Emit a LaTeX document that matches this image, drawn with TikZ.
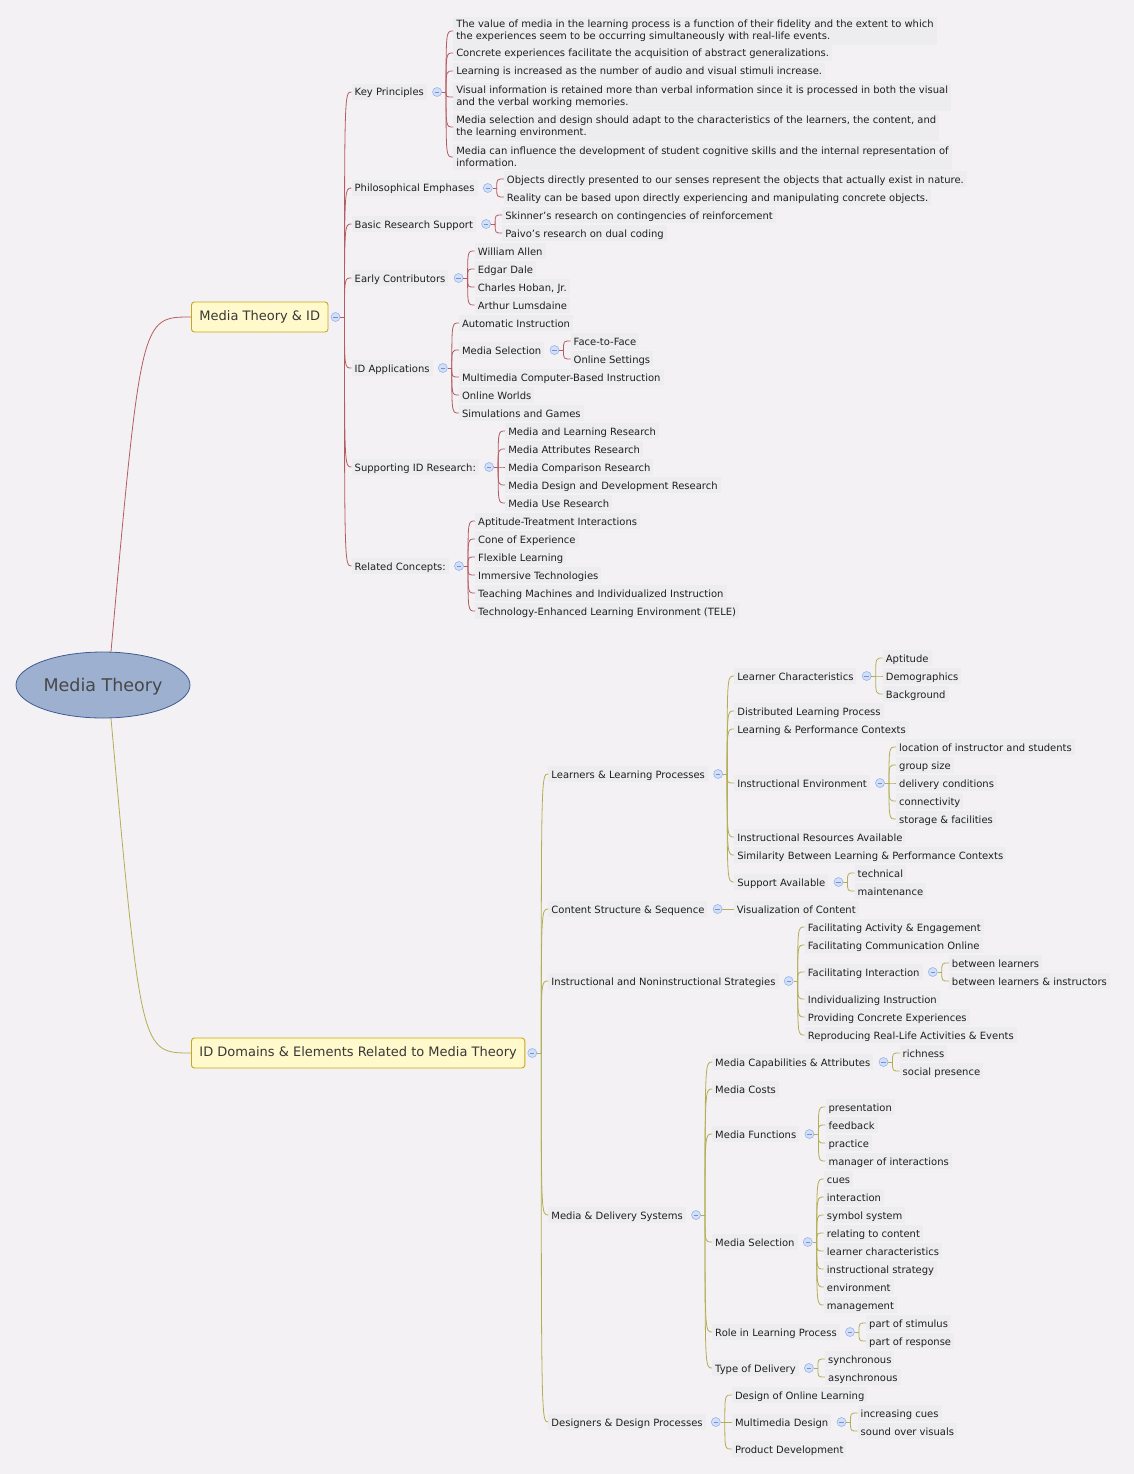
\documentclass[tikz,border=0pt]{standalone}
\usepackage{fontspec}
\setmainfont{DejaVu Sans}
\usetikzlibrary{shapes.geometric,calc}
\definecolor{mapback}{RGB}{243,241,244}
\definecolor{nodefill}{RGB}{237,237,239}
\definecolor{redline}{RGB}{180,92,98}
\definecolor{oliveline}{RGB}{178,174,82}
\definecolor{topicfill}{RGB}{255,249,204}
\definecolor{topicline}{RGB}{201,168,20}
\definecolor{rootfill}{RGB}{158,176,207}
\definecolor{rootline}{RGB}{62,92,146}
\definecolor{hubfill}{RGB}{210,223,248}
\definecolor{hubline}{RGB}{152,180,234}
\definecolor{hubminus}{RGB}{118,146,204}
\newcommand{\mmfont}{\fontsize{10}{12}\selectfont}
\tikzset{
  mmtext/.style={font=\mmfont, text=black!88, fill=nodefill, inner xsep=3pt,
    inner ysep=3pt, anchor=west, xshift=16pt},
  leaf/.style={mmtext, text height=9pt, text depth=1pt},
  leafml/.style={mmtext, align=left, yshift=-2pt},
  topic/.style={draw=topicline, fill=topicfill, rounded corners=3pt, line width=0.9pt,
    font=\fontsize{13}{15}\selectfont, text=black!78, minimum height=30pt,
    inner xsep=8pt, anchor=west},
  rootnode/.style={ellipse, draw=rootline, fill=rootfill, line width=0.8pt,
    minimum width=174pt, minimum height=66pt, inner sep=0pt,
    text height=13.2pt, text depth=0pt,
    font=\fontsize{17.5}{20}\selectfont, text=black!72},
  hubdot/.style={circle, draw=hubline, fill=hubfill, minimum size=9pt, inner sep=0pt,
    line width=0.6pt, path picture={\draw[hubminus, line width=0.6pt]
      ([xshift=-2.2pt]path picture bounding box.center) --
      ([xshift=2.2pt]path picture bounding box.center);}},
  redbr/.style={draw=redline, line width=0.8pt},
  olivebr/.style={draw=oliveline, line width=0.8pt},
  branch/.style={to path={.. controls (\tikztostart |- \tikztotarget) .. (\tikztotarget)}}
}
% collapse dot and short stub after a node with children
\newcommand{\mmhub}[3][10pt]{%
  \node[hubdot] (#2-c) at ([xshift=#1]#2.east) {};
  \coordinate (#2-s) at ([xshift=9pt]#2-c.center);
  \draw[#3] (#2-c.east) -- (#2-s);
}
% one child: name, parent, y, line style, text
\newcommand{\mmchild}[6][leaf]{%
  \node[#1] (#2) at (#3-c |- 0,#4) {#6};
  \draw[#5] (#3-s) to[branch] (#2.west);
}
% evenly spaced children: parent, line style, first y, list
\newcommand{\mmkids}[4]{%
  \foreach \t [count=\i] in {#4} {
    \pgfmathsetmacro\y{#3+18*(\i-1)}
    \node[leaf] (#1\i) at (#1-c |- 0,\y) {\t};
    \draw[#2] (#1-s) to[branch] (#1\i.west);
  }
}

\begin{document}
\begin{tikzpicture}[x=1pt,y=-1pt]
  \fill[mapback] (0,0) rectangle (1134,1474);
  \useasboundingbox (0,0) rectangle (1134,1474);

  \node[rootnode] (root) at (103,685) {Media Theory};
  \node[topic] (mtid) at (191,317) {Media Theory \& ID};
  \node[topic] (idd) at (191,1053) {ID Domains \& Elements Related to Media Theory};
  \draw[redbr] ([xshift=8pt]root.north)
    .. controls ($(root.north |- mtid.west)+(38,0)$) .. (mtid.west);
  \draw[olivebr] ([xshift=8pt]root.south)
    .. controls ($(root.south |- idd.west)+(38,0)$) .. (idd.west);

  % ---- Media Theory & ID
  \mmhub[7pt]{mtid}{redbr}
  \mmchild{kp}{mtid}{92}{redbr}{Key Principles}
  \mmchild{pe}{mtid}{188}{redbr}{Philosophical Emphases}
  \mmchild{brs}{mtid}{224}{redbr}{Basic Research Support}
  \mmchild{ec}{mtid}{278}{redbr}{Early Contributors}
  \mmchild{ia}{mtid}{368}{redbr}{ID Applications}
  \mmchild{sir}{mtid}{467}{redbr}{Supporting ID Research:}
  \mmchild{rc}{mtid}{566}{redbr}{Related Concepts:}

  \mmhub{kp}{redbr}
  \mmchild[leafml]{kpa}{kp}{29}{redbr}{The value of media in the learning process is a function of their fidelity and the extent to which\\the experiences seem to be occurring simultaneously with real-life events.}
  \mmchild{kpb}{kp}{53}{redbr}{Concrete experiences facilitate the acquisition of abstract generalizations.}
  \mmchild{kpc}{kp}{71}{redbr}{Learning is increased as the number of audio and visual stimuli increase.}
  \mmchild[leafml]{kpd}{kp}{95}{redbr}{Visual information is retained more than verbal information since it is processed in both the visual\\and the verbal working memories.}
  \mmchild[leafml]{kpe}{kp}{125}{redbr}{Media selection and design should adapt to the characteristics of the learners, the content, and\\the learning environment.}
  \mmchild[leafml]{kpf}{kp}{155}{redbr}{Media can influence the development of student cognitive skills and the internal representation of\\information.}

  \mmhub{pe}{redbr}
  \mmkids{pe}{redbr}{179}{Objects directly presented to our senses represent the objects that actually exist in nature.,
    Reality can be based upon directly experiencing and manipulating concrete objects.}
  \mmhub{brs}{redbr}
  \mmkids{brs}{redbr}{215}{Skinner's research on contingencies of reinforcement, Paivo's research on dual coding}
  \mmhub{ec}{redbr}
  \mmkids{ec}{redbr}{251}{William Allen, Edgar Dale, {Charles Hoban, Jr.}, Arthur Lumsdaine}

  \mmhub{ia}{redbr}
  \mmchild{iaa}{ia}{323}{redbr}{Automatic Instruction}
  \mmchild{ims}{ia}{350}{redbr}{Media Selection}
  \mmchild{iab}{ia}{377}{redbr}{Multimedia Computer-Based Instruction}
  \mmchild{iac}{ia}{395}{redbr}{Online Worlds}
  \mmchild{iad}{ia}{413}{redbr}{Simulations and Games}
  \mmhub{ims}{redbr}
  \mmkids{ims}{redbr}{341}{Face-to-Face, Online Settings}

  \mmhub{sir}{redbr}
  \mmkids{sir}{redbr}{431}{Media and Learning Research, Media Attributes Research,
    Media Comparison Research, Media Design and Development Research, Media Use Research}
  \mmhub{rc}{redbr}
  \mmkids{rc}{redbr}{521}{Aptitude-Treatment Interactions, Cone of Experience, Flexible Learning,
    Immersive Technologies, Teaching Machines and Individualized Instruction,
    Technology-Enhanced Learning Environment (TELE)}

  % ---- ID Domains & Elements
  \mmhub[7pt]{idd}{olivebr}
  \mmchild{ll}{idd}{774}{olivebr}{Learners \& Learning Processes}
  \mmchild{cs}{idd}{909}{olivebr}{Content Structure \& Sequence}
  \mmchild{ins}{idd}{981}{olivebr}{Instructional and Noninstructional Strategies}
  \mmchild{mds}{idd}{1215}{olivebr}{Media \& Delivery Systems}
  \mmchild{dd}{idd}{1422}{olivebr}{Designers \& Design Processes}

  \mmhub{ll}{olivebr}
  \mmchild{lc}{ll}{676}{olivebr}{Learner Characteristics}
  \mmchild{dlp}{ll}{711}{olivebr}{Distributed Learning Process}
  \mmchild{lpc}{ll}{729}{olivebr}{Learning \& Performance Contexts}
  \mmchild{ie}{ll}{783}{olivebr}{Instructional Environment}
  \mmchild{ira}{ll}{837}{olivebr}{Instructional Resources Available}
  \mmchild{sbl}{ll}{855}{olivebr}{Similarity Between Learning \& Performance Contexts}
  \mmchild{sa}{ll}{882}{olivebr}{Support Available}
  \mmhub{lc}{olivebr}
  \mmkids{lc}{olivebr}{658}{Aptitude, Demographics, Background}
  \mmhub{ie}{olivebr}
  \mmkids{ie}{olivebr}{747}{location of instructor and students, group size,
    delivery conditions, connectivity, storage \& facilities}
  \mmhub{sa}{olivebr}
  \mmkids{sa}{olivebr}{873}{technical, maintenance}

  \mmhub{cs}{olivebr}
  \mmchild{vc}{cs}{909}{olivebr}{Visualization of Content}

  \mmhub{ins}{olivebr}
  \mmchild{fae}{ins}{927}{olivebr}{Facilitating Activity \& Engagement}
  \mmchild{fco}{ins}{945}{olivebr}{Facilitating Communication Online}
  \mmchild{fi}{ins}{972}{olivebr}{Facilitating Interaction}
  \mmchild{ii}{ins}{999}{olivebr}{Individualizing Instruction}
  \mmchild{pce}{ins}{1017}{olivebr}{Providing Concrete Experiences}
  \mmchild{rra}{ins}{1035}{olivebr}{Reproducing Real-Life Activities \& Events}
  \mmhub{fi}{olivebr}
  \mmkids{fi}{olivebr}{963}{between learners, between learners \& instructors}

  \mmhub{mds}{olivebr}
  \mmchild{mca}{mds}{1062}{olivebr}{Media Capabilities \& Attributes}
  \mmchild{mco}{mds}{1089}{olivebr}{Media Costs}
  \mmchild{mf}{mds}{1134}{olivebr}{Media Functions}
  \mmchild{dms}{mds}{1242}{olivebr}{Media Selection}
  \mmchild{rlp}{mds}{1332}{olivebr}{Role in Learning Process}
  \mmchild{tod}{mds}{1368}{olivebr}{Type of Delivery}
  \mmhub{mca}{olivebr}
  \mmkids{mca}{olivebr}{1053}{richness, social presence}
  \mmhub{mf}{olivebr}
  \mmkids{mf}{olivebr}{1107}{presentation, feedback, practice, manager of interactions}
  \mmhub{dms}{olivebr}
  \mmkids{dms}{olivebr}{1179}{cues, interaction, symbol system, relating to content,
    learner characteristics, instructional strategy, environment, management}
  \mmhub{rlp}{olivebr}
  \mmkids{rlp}{olivebr}{1323}{part of stimulus, part of response}
  \mmhub{tod}{olivebr}
  \mmkids{tod}{olivebr}{1359}{synchronous, asynchronous}

  \mmhub{dd}{olivebr}
  \mmchild{dol}{dd}{1395}{olivebr}{Design of Online Learning}
  \mmchild{mmd}{dd}{1422}{olivebr}{Multimedia Design}
  \mmchild{pdv}{dd}{1449}{olivebr}{Product Development}
  \mmhub{mmd}{olivebr}
  \mmkids{mmd}{olivebr}{1413}{increasing cues, sound over visuals}
\end{tikzpicture}
\end{document}
